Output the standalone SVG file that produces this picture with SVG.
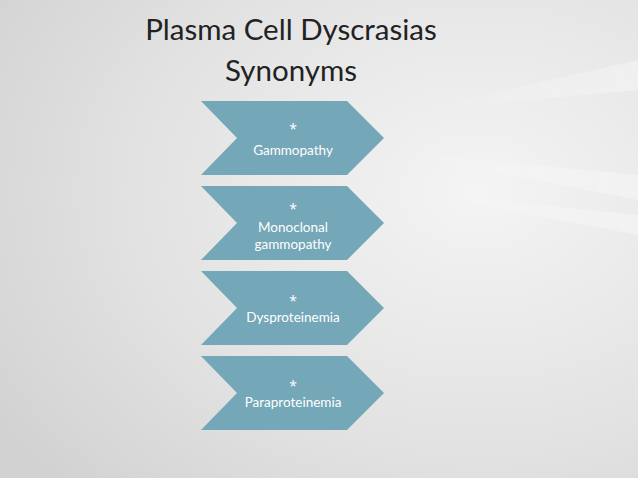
<svg xmlns="http://www.w3.org/2000/svg" width="638" height="478" viewBox="0 0 638 478">
<defs>
<radialGradient id="bg" cx="0.75" cy="0.4" r="0.9">
<stop offset="0" stop-color="#f4f4f4"/><stop offset="0.6" stop-color="#e2e2e2"/><stop offset="1" stop-color="#d2d2d2"/>
</radialGradient>
<linearGradient id="streak" x1="0" y1="0" x2="1" y2="0">
<stop offset="0" stop-color="#fff" stop-opacity="0"/><stop offset="1" stop-color="#fff" stop-opacity="0.8"/>
</linearGradient>
<polygon id="chev" points="0,0 146,0 183,37 146,74 0,74 36,37"/>
</defs>
<style>
.c{fill:#74a7b7}
.t{font-family:"Lato","Open Sans",sans-serif;font-size:13.5px;fill:#fff;text-anchor:middle}
.s{font-family:"Open Sans",sans-serif;font-size:14px;fill:#fff;text-anchor:middle}
.h{font-family:"Lato","Open Sans",sans-serif;font-size:29.5px;fill:#222;text-anchor:middle}
</style>
<rect width="638" height="478" fill="url(#bg)"/>
<g opacity="0.45">
<polygon points="380,150 638,175 638,200" fill="url(#streak)"/>
<polygon points="400,190 638,215 638,235" fill="url(#streak)"/>
<polygon points="420,110 638,60 638,90" fill="url(#streak)"/>
</g>
<g id="title">
<text class="h" x="291" y="40">Plasma Cell Dyscrasias</text>
<text class="h" x="291" y="81">Synonyms</text>
</g>
<g id="n1" transform="translate(201,101)"><use href="#chev" class="c"/>
<text class="s" x="92" y="33">*</text><text class="t" x="92" y="54">Gammopathy</text></g>
<g id="n2" transform="translate(201,186)"><use href="#chev" class="c"/>
<text class="s" x="92" y="28">*</text><text class="t" x="92" y="46">Monoclonal</text><text class="t" x="92" y="63">gammopathy</text></g>
<g id="n3" transform="translate(201,271)"><use href="#chev" class="c"/>
<text class="s" x="92" y="35">*</text><text class="t" x="92" y="51">Dysproteinemia</text></g>
<g id="n4" transform="translate(201,356)"><use href="#chev" class="c"/>
<text class="s" x="92" y="35">*</text><text class="t" x="92" y="51">Paraproteinemia</text></g>
<g id="connectors"/>
</svg>
